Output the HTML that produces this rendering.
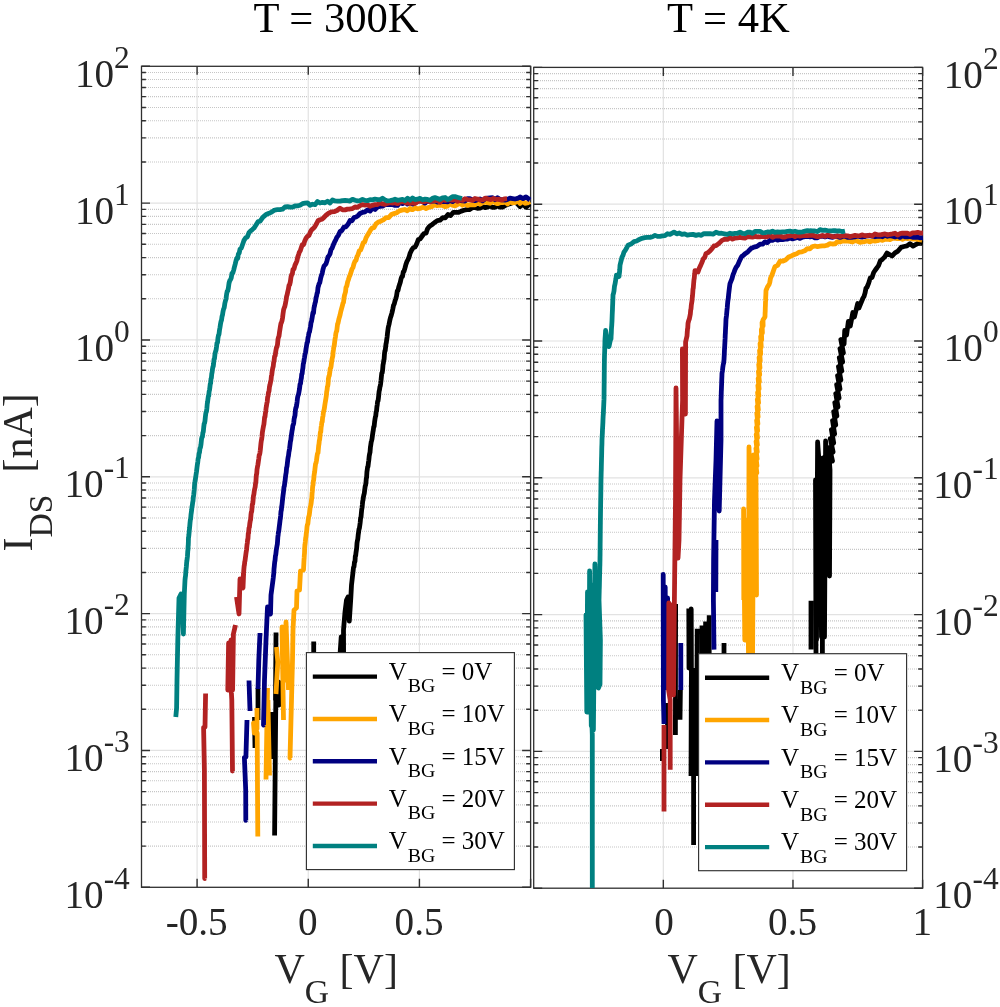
<!DOCTYPE html>
<html lang="en"><head><meta charset="utf-8"><title>IDS vs VG at 300K and 4K</title>
<style>html,body{margin:0;padding:0;background:#fff;}body{width:1000px;height:1007px;overflow:hidden;}svg{display:block;font-family:"Liberation Serif", "Times New Roman", serif;}text{white-space:pre;}</style></head><body>
<svg width="1000" height="1007" viewBox="0 0 1000 1007">
<rect width="1000" height="1007" fill="#fff"/>
<rect x="141.5" y="66.3" width="389.1" height="821" fill="#fff"/>
<path d="M142 161.94H530.6M142 137.85H530.6M142 120.75H530.6M142 107.49H530.6M142 96.66H530.6M142 87.5H530.6M142 79.56H530.6M142 72.56H530.6M142 298.78H530.6M142 274.68H530.6M142 257.58H530.6M142 244.32H530.6M142 233.49H530.6M142 224.33H530.6M142 216.39H530.6M142 209.39H530.6M142 435.61H530.6M142 411.51H530.6M142 394.42H530.6M142 381.16H530.6M142 370.32H530.6M142 361.16H530.6M142 353.23H530.6M142 346.23H530.6M142 572.44H530.6M142 548.35H530.6M142 531.25H530.6M142 517.99H530.6M142 507.16H530.6M142 498H530.6M142 490.06H530.6M142 483.06H530.6M142 709.28H530.6M142 685.18H530.6M142 668.08H530.6M142 654.82H530.6M142 643.99H530.6M142 634.83H530.6M142 626.89H530.6M142 619.89H530.6M142 846.11H530.6M142 822.01H530.6M142 804.92H530.6M142 791.66H530.6M142 780.82H530.6M142 771.66H530.6M142 763.73H530.6M142 756.73H530.6" stroke="#c6c6c6" stroke-width="1.1" stroke-dasharray="1 1" fill="none"/>
<path d="M141.5 203.13H530.6M141.5 339.97H530.6M141.5 476.8H530.6M141.5 613.63H530.6M141.5 750.47H530.6M197.09 66.3V887.3M308.26 66.3V887.3M419.43 66.3V887.3" stroke="#e2e2e2" stroke-width="1.2" fill="none"/>
<rect x="533.7" y="67.4" width="388.9" height="820.8" fill="#fff"/>
<path d="M534 163.02H922.6M534 138.93H922.6M534 121.84H922.6M534 108.58H922.6M534 97.75H922.6M534 88.59H922.6M534 80.66H922.6M534 73.66H922.6M534 299.82H922.6M534 275.73H922.6M534 258.64H922.6M534 245.38H922.6M534 234.55H922.6M534 225.39H922.6M534 217.46H922.6M534 210.46H922.6M534 436.62H922.6M534 412.53H922.6M534 395.44H922.6M534 382.18H922.6M534 371.35H922.6M534 362.19H922.6M534 354.26H922.6M534 347.26H922.6M534 573.42H922.6M534 549.33H922.6M534 532.24H922.6M534 518.98H922.6M534 508.15H922.6M534 498.99H922.6M534 491.06H922.6M534 484.06H922.6M534 710.22H922.6M534 686.13H922.6M534 669.04H922.6M534 655.78H922.6M534 644.95H922.6M534 635.79H922.6M534 627.86H922.6M534 620.86H922.6M534 847.02H922.6M534 822.93H922.6M534 805.84H922.6M534 792.58H922.6M534 781.75H922.6M534 772.59H922.6M534 764.66H922.6M534 757.66H922.6" stroke="#c6c6c6" stroke-width="1.1" stroke-dasharray="1 1" fill="none"/>
<path d="M533.7 204.2H922.6M533.7 341H922.6M533.7 477.8H922.6M533.7 614.6H922.6M533.7 751.4H922.6M663.33 67.4V888.2M792.97 67.4V888.2" stroke="#e2e2e2" stroke-width="1.2" fill="none"/>
<path d="M141.5 66.3h8.5M530.6 66.3h-8.5M141.5 161.94h4.4M530.6 161.94h-4.4M141.5 137.85h4.4M530.6 137.85h-4.4M141.5 120.75h4.4M530.6 120.75h-4.4M141.5 107.49h4.4M530.6 107.49h-4.4M141.5 96.66h4.4M530.6 96.66h-4.4M141.5 87.5h4.4M530.6 87.5h-4.4M141.5 79.56h4.4M530.6 79.56h-4.4M141.5 72.56h4.4M530.6 72.56h-4.4M141.5 203.13h8.5M530.6 203.13h-8.5M141.5 298.78h4.4M530.6 298.78h-4.4M141.5 274.68h4.4M530.6 274.68h-4.4M141.5 257.58h4.4M530.6 257.58h-4.4M141.5 244.32h4.4M530.6 244.32h-4.4M141.5 233.49h4.4M530.6 233.49h-4.4M141.5 224.33h4.4M530.6 224.33h-4.4M141.5 216.39h4.4M530.6 216.39h-4.4M141.5 209.39h4.4M530.6 209.39h-4.4M141.5 339.97h8.5M530.6 339.97h-8.5M141.5 435.61h4.4M530.6 435.61h-4.4M141.5 411.51h4.4M530.6 411.51h-4.4M141.5 394.42h4.4M530.6 394.42h-4.4M141.5 381.16h4.4M530.6 381.16h-4.4M141.5 370.32h4.4M530.6 370.32h-4.4M141.5 361.16h4.4M530.6 361.16h-4.4M141.5 353.23h4.4M530.6 353.23h-4.4M141.5 346.23h4.4M530.6 346.23h-4.4M141.5 476.8h8.5M530.6 476.8h-8.5M141.5 572.44h4.4M530.6 572.44h-4.4M141.5 548.35h4.4M530.6 548.35h-4.4M141.5 531.25h4.4M530.6 531.25h-4.4M141.5 517.99h4.4M530.6 517.99h-4.4M141.5 507.16h4.4M530.6 507.16h-4.4M141.5 498h4.4M530.6 498h-4.4M141.5 490.06h4.4M530.6 490.06h-4.4M141.5 483.06h4.4M530.6 483.06h-4.4M141.5 613.63h8.5M530.6 613.63h-8.5M141.5 709.28h4.4M530.6 709.28h-4.4M141.5 685.18h4.4M530.6 685.18h-4.4M141.5 668.08h4.4M530.6 668.08h-4.4M141.5 654.82h4.4M530.6 654.82h-4.4M141.5 643.99h4.4M530.6 643.99h-4.4M141.5 634.83h4.4M530.6 634.83h-4.4M141.5 626.89h4.4M530.6 626.89h-4.4M141.5 619.89h4.4M530.6 619.89h-4.4M141.5 750.47h8.5M530.6 750.47h-8.5M141.5 846.11h4.4M530.6 846.11h-4.4M141.5 822.01h4.4M530.6 822.01h-4.4M141.5 804.92h4.4M530.6 804.92h-4.4M141.5 791.66h4.4M530.6 791.66h-4.4M141.5 780.82h4.4M530.6 780.82h-4.4M141.5 771.66h4.4M530.6 771.66h-4.4M141.5 763.73h4.4M530.6 763.73h-4.4M141.5 756.73h4.4M530.6 756.73h-4.4M141.5 887.3h8.5M530.6 887.3h-8.5M197.09 887.3v-8.5M197.09 66.3v8.5M308.26 887.3v-8.5M308.26 66.3v8.5M419.43 887.3v-8.5M419.43 66.3v8.5M530.6 887.3v-8.5M530.6 66.3v8.5" stroke="#303030" stroke-width="1.4" fill="none"/>
<rect x="141.5" y="66.3" width="389.1" height="821" fill="none" stroke="#303030" stroke-width="1.3"/>
<path d="M533.7 67.4h8.5M922.6 67.4h-8.5M533.7 163.02h4.4M922.6 163.02h-4.4M533.7 138.93h4.4M922.6 138.93h-4.4M533.7 121.84h4.4M922.6 121.84h-4.4M533.7 108.58h4.4M922.6 108.58h-4.4M533.7 97.75h4.4M922.6 97.75h-4.4M533.7 88.59h4.4M922.6 88.59h-4.4M533.7 80.66h4.4M922.6 80.66h-4.4M533.7 73.66h4.4M922.6 73.66h-4.4M533.7 204.2h8.5M922.6 204.2h-8.5M533.7 299.82h4.4M922.6 299.82h-4.4M533.7 275.73h4.4M922.6 275.73h-4.4M533.7 258.64h4.4M922.6 258.64h-4.4M533.7 245.38h4.4M922.6 245.38h-4.4M533.7 234.55h4.4M922.6 234.55h-4.4M533.7 225.39h4.4M922.6 225.39h-4.4M533.7 217.46h4.4M922.6 217.46h-4.4M533.7 210.46h4.4M922.6 210.46h-4.4M533.7 341h8.5M922.6 341h-8.5M533.7 436.62h4.4M922.6 436.62h-4.4M533.7 412.53h4.4M922.6 412.53h-4.4M533.7 395.44h4.4M922.6 395.44h-4.4M533.7 382.18h4.4M922.6 382.18h-4.4M533.7 371.35h4.4M922.6 371.35h-4.4M533.7 362.19h4.4M922.6 362.19h-4.4M533.7 354.26h4.4M922.6 354.26h-4.4M533.7 347.26h4.4M922.6 347.26h-4.4M533.7 477.8h8.5M922.6 477.8h-8.5M533.7 573.42h4.4M922.6 573.42h-4.4M533.7 549.33h4.4M922.6 549.33h-4.4M533.7 532.24h4.4M922.6 532.24h-4.4M533.7 518.98h4.4M922.6 518.98h-4.4M533.7 508.15h4.4M922.6 508.15h-4.4M533.7 498.99h4.4M922.6 498.99h-4.4M533.7 491.06h4.4M922.6 491.06h-4.4M533.7 484.06h4.4M922.6 484.06h-4.4M533.7 614.6h8.5M922.6 614.6h-8.5M533.7 710.22h4.4M922.6 710.22h-4.4M533.7 686.13h4.4M922.6 686.13h-4.4M533.7 669.04h4.4M922.6 669.04h-4.4M533.7 655.78h4.4M922.6 655.78h-4.4M533.7 644.95h4.4M922.6 644.95h-4.4M533.7 635.79h4.4M922.6 635.79h-4.4M533.7 627.86h4.4M922.6 627.86h-4.4M533.7 620.86h4.4M922.6 620.86h-4.4M533.7 751.4h8.5M922.6 751.4h-8.5M533.7 847.02h4.4M922.6 847.02h-4.4M533.7 822.93h4.4M922.6 822.93h-4.4M533.7 805.84h4.4M922.6 805.84h-4.4M533.7 792.58h4.4M922.6 792.58h-4.4M533.7 781.75h4.4M922.6 781.75h-4.4M533.7 772.59h4.4M922.6 772.59h-4.4M533.7 764.66h4.4M922.6 764.66h-4.4M533.7 757.66h4.4M922.6 757.66h-4.4M533.7 888.2h8.5M922.6 888.2h-8.5M663.33 888.2v-8.5M663.33 67.4v8.5M792.97 888.2v-8.5M792.97 67.4v8.5M922.6 888.2v-8.5M922.6 67.4v8.5" stroke="#303030" stroke-width="1.4" fill="none"/>
<rect x="533.7" y="67.4" width="388.9" height="820.8" fill="none" stroke="#303030" stroke-width="1.3"/>
<clipPath id="c1"><rect x="140.9" y="65.7" width="390.3" height="822.2"/></clipPath>
<g clip-path="url(#c1)" fill="none" stroke-width="4.8" stroke-linejoin="round" stroke-linecap="butt">
<path d="M340 655L341.2 637L342.5 640L343.6 655L343.5 630L345 612L346.5 600L348 597L349.3 621L350.8 598L351.5 585L353 572L353.5 567.53L354 566.71L354.5 561.97L355 561.46L355.33 555.88L355.67 555.81L356 552.54L356.33 550.41L356.67 548.17L357 543.22L357.4 540.71L357.8 539.02L358.2 534.94L358.6 532.09L359 529.19L359.4 528.27L359.8 525.52L360.2 522.49L360.6 517.97L361 517.27L361.33 513.37L361.67 509.86L362 507.87L362.33 505.09L362.67 501.4L363 500.19L363.43 496.91L363.87 494.88L364.3 493.29L364.73 489.77L365.17 486.38L365.6 485.09L365.93 482.82L366.27 478.64L366.6 477.34L366.93 471.89L367.27 469.59L367.6 467.02L368 466.51L368.4 462.97L368.8 460.26L369.2 456.16L369.6 453.98L370 452.49L370.4 447.47L370.8 444.85L371.2 441.98L371.6 440.57L372 439.02L372.43 435.59L372.86 432.56L373.29 430.29L373.71 426.75L374.14 426.49L374.57 422.13L375 419.21L375.38 416.93L375.75 415.97L376.12 411.95L376.5 411.21L376.88 407.01L377.25 404.82L377.62 401.22L378 401.22L378.38 398.39L378.75 394.92L379.12 391.35L379.5 389.98L379.88 387.13L380.25 386.02L380.62 383.78L381 380.72L381.4 376.56L381.8 373.02L382.2 372.78L382.6 370.13L383 364.98L383.38 363.25L383.75 360.44L384.12 359.18L384.5 353.63L384.88 350.94L385.25 350.53L385.62 346.96L386 343.89L386.38 342.33L386.75 339.28L387.12 337.08L387.5 333.27L387.88 330.25L388.25 327.53L388.62 326L389 324.45L389.75 320.64L390.5 317.54L391.25 315.36L392 312.62L392.75 309.29L393.5 305.44L394.25 303.97L395 300.9L395.75 298.68L396.5 296.18L397.25 291.05L398 290.51L398.75 287.04L399.5 284.67L400.25 282.55L401 278.93L401.75 276.75L402.5 276.46L403.25 271.99L404 271.24L405 267.89L406 264.11L407 261.46L408 259.65L409 257.27L410 253.52L411.67 250.01L413.33 247.68L415 247.08L416.67 244.02L418.33 239.49L420 239.01L422 236.23L424 233.5L426 233.18L427.5 228.89L429 226.79L430.5 225.53L432 224.71L434.67 222.48L437.33 220.62L440 220.22L442.67 217.68L445.33 217.86L448 214.51L450.67 215.52L453.33 212.3L456 212.47L458.67 212.35L461.33 211.13L464 210.24L466.67 209.62L469.33 209.69L472 208.01L474.67 207.47L477.33 208.3L480 208.06L482.5 206.6L485 207.59L487.5 207.15L490 205.97L492.5 207.37L495 207.34L497.5 205.77L500 207.1L502.5 207.06L505 205.69L507.5 204.52L510 203.72L513 202.59L516 202.32L520 206.5L523 204.18L526 207.25L530 204M313.7 641.5L313.7 655M258 688L258 720M254.5 717L255 748M276 632.5L275.5 700L278.8 682L279 705L275.8 700L275 790L274.6 835.4M271.5 712L270.5 759" stroke="#000000"/>
<path d="M290.21 757.7L290 758L291.5 700L292.5 660L293 630L294 610L296.5 608L297 591L299.5 590L300.5 571L303.5 570L304 560L304.17 557.94L304.33 555.12L304.5 553.32L304.67 548.65L304.83 545.93L305 544.7L305.33 541.81L305.67 538.08L306 536.55L306.33 533.02L306.67 531.5L307 526.86L307.43 524.5L307.87 523.87L308.3 519.57L308.73 516.61L309.17 515.58L309.6 512.39L310.1 507.95L310.6 506.15L311.1 503.49L311.6 498.99L311.83 497.79L312.07 493.54L312.3 491.51L312.53 488.08L312.77 485.78L313 485.43L313.33 481.04L313.67 480.14L314 475.82L314.33 473.66L314.67 471.78L315 468.56L315.5 464.17L316 462.93L316.5 460.4L317 456.38L317.5 453.45L318 453.12L318.33 449.37L318.67 445.75L319 443.86L319.33 440.49L319.67 439.56L320 436L320.38 432.31L320.75 431.95L321.12 427.27L321.5 425.34L321.88 422.08L322.25 421.72L322.62 417.34L323 416.08L323.43 412.21L323.86 410.8L324.29 408.84L324.71 405.82L325.14 403.01L325.57 400.53L326 397.81L326.34 395.71L326.69 391.64L327.03 390.21L327.37 386.92L327.71 386.24L328.06 383.89L328.4 378.7L328.85 376.43L329.3 375.61L329.75 372.71L330.2 368.56L330.65 368.11L331.1 366.33L331.55 362.27L332 359.54L332.38 357.71L332.75 356.32L333.12 351.79L333.5 349.41L333.88 346.57L334.25 345.39L334.62 342.41L335 339.27L335.43 337.09L335.86 333.46L336.29 331.72L336.71 331.16L337.14 327.4L337.57 323.92L338 323.31L339 318.57L340 315.25L340.75 311.61L341.5 308.94L342.25 306.1L343 303.19L343.5 302.45L344 297.96L344.5 295.25L345 293.65L345.5 291.92L346 287.37L346.8 285.98L347.6 282.01L348.4 279.78L349.2 277.09L350 275.33L351 272.27L352 269.02L353 267.52L354 263.6L355 261.15L356 260.38L357 256.64L358 254.82L359.33 250.78L360.67 249.91L362 246.34L363.33 242.58L364.67 241.97L366 237.91L367.5 235.27L369 232.79L370.5 230.06L372 228.1L374 227.58L376 223.92L378 222.28L380.67 221.18L383.33 219.8L386 217.64L388.67 217.52L391.33 214.6L394 213.61L396.67 212.78L399.33 210.89L402 210.17L404.67 209.47L407.33 210.74L410 208.54L412.5 209.7L415 207.97L417.5 208.84L420 208.47L423 207.16L426 208.5L429 207.27L432 206.57L434.57 204.81L437.14 205.66L439.71 205.01L442.29 205.4L444.86 206.56L447.43 206.12L450 203.49L452.5 205.22L455 205.85L457.5 204.55L460 203.09L462.5 205.28L465 203.83L467.5 205.37L470 204.92L472.5 204.69L475 204.89L477.5 202.2L480 204.28L482.5 202.72L485 202.11L487.5 202.74L490 203.27L492.5 201.44L495 202.7L497.5 203.63L500 202.69L502.5 202.71L505 201.94L507.5 203.89L510 201.64L512.5 202.84L515 202.64L517.5 200.6L520 203.49L522.5 201.11L525 203.27L527.5 202.98L530 201.6M288.5 690L286 622L284.8 680L282 627L283.5 720M276.5 647L277.8 662L276 694M267.5 688L266 779.5M267.9 700L269.5 775.5M257 708L257 729L253.5 723L254.3 733L257.2 733L257.5 790L257.8 836.6" stroke="#FFA500"/>
<path d="M263.71 724.7L263.5 725L264.5 680L266 640L267.5 607L270.5 614L271 595L273 580L273.25 578.06L273.5 575.55L273.75 573.55L274 569.06L274.25 566.69L274.5 563.94L274.75 561.68L275 560.7L275.4 556.09L275.8 554.49L276.2 550.74L276.6 548.18L277 545.79L277.29 544.44L277.57 541.18L277.86 536.83L278.14 535.04L278.43 532.08L278.71 531.69L279 528.93L279.33 526.25L279.67 523.65L280 520.73L280.33 518.68L280.67 515.55L281 511.27L281.33 510.38L281.67 506.63L282 504.77L282.33 501.53L282.67 498.46L283 495.59L283.33 493.12L283.67 490.11L284 486.85L284.33 486.29L284.67 483.56L285 481.46L285.4 477.77L285.8 474.56L286.2 472.35L286.6 467.7L287 466.53L287.37 463.26L287.74 459.89L288.11 457.39L288.49 455.78L288.86 452.4L289.23 450.45L289.6 448.32L290 445.02L290.4 441.56L290.8 439.97L291.2 436.54L291.6 433.87L292 431.08L292.43 429.03L292.86 425.58L293.29 424.74L293.71 423.08L294.14 418.81L294.57 417.23L295 415.3L295.43 410.06L295.86 407.78L296.29 407.2L296.71 404.73L297.14 401.56L297.57 397.55L298 395.74L298.5 394.44L299 391.83L299.5 388.91L300 384.44L300.5 383.73L301 379.62L301.38 378.15L301.75 373.91L302.12 373.91L302.5 370.31L302.88 368.17L303.25 364.14L303.62 362.85L304 360.24L304.5 357.61L305 354.24L305.5 352.68L306 348.86L306.5 346.05L307 342.99L307.5 342.05L308 337.84L308.5 335.68L309 332.71L309.5 331.93L310 329.17L310.5 326.63L311 322.62L311.5 321.32L312 318.53L312.5 315.28L313 312.51L313.5 312.99L314 307.86L314.5 305.9L315 303.31L315.5 301.79L316 297.73L316.5 296.41L317 293.6L317.5 292.5L318 287.52L318.5 286L319 283.99L319.8 282.61L320.6 278.45L321.4 275.52L322.2 273.31L323 269.39L324 266.1L325 265L326 263.73L327 260.72L328 256.87L329 255.75L330 253.85L331 249.68L332 248.26L333.25 245.07L334.5 242.23L335.75 239.86L337 237.11L338.5 235.05L340 231.61L342 230.36L344 227.09L346 226.77L348 224.3L350 220.51L352 220.82L354 217.57L356 216.94L358 215.66L360 213.5L362.5 212.37L365 211.8L367.5 209.91L370 211.09L372.5 208.09L375 209.47L377.5 206.9L380 206.41L382.5 206.17L385 204.6L387.5 204.38L390 204.58L392.5 204.48L395 205.43L397.5 205.42L400 202.23L402.5 203.56L405 202.19L407.5 204.06L410 202.47L412.5 204.03L415 202.84L417.5 201.43L420 200.91L422.5 201.47L425 203.15L427.5 200.82L430 201.64L432.5 201.14L435 200.88L437.5 202.08L440 200.14L442.5 201.53L445 201.25L447.5 201.93L450 200.56L452.5 201.64L455 200.07L457.5 200.34L460 200.36L462.5 200.97L465 201.09L467.5 198.7L470 198.71L472.5 199.85L475 200.64L477.5 199.75L480 199L482.5 200.89L485 198.79L487.5 198.06L490 197.86L492.5 197.69L495 199.68L497.5 197.72L500 199.45L502.5 199.8L505 200.1L507.5 199.43L510 198.17L512.5 198.57L515 199L517.5 198.45L520 196.97L523 198.59L526 196.83L530 200M260 633L258.8 660L258 689M249 680.5L250 711M247 720L245.9 757L244.4 757.5L245.7 790L245.8 820.4L246 820.1" stroke="#000080"/>
<path d="M236.5 597L239 614L240 579L243 588L243.6 574L243 578L243.29 575.9L243.57 573.36L243.86 569.21L244.14 566.25L244.43 564.77L244.71 561.89L245 560.93L245.4 557.77L245.8 554.7L246.2 551.77L246.6 549.28L247 544.94L247.32 543.02L247.64 539.39L247.96 538.82L248.28 533.48L248.6 532.96L249 528.06L249.4 527.23L249.8 523.51L250.2 521.05L250.6 519.69L251 514.56L251.33 512.02L251.67 511.91L252 508.03L252.33 504.11L252.67 504.13L253 501.34L253.43 496.17L253.87 494.44L254.3 490.91L254.73 488.77L255.17 487.03L255.6 482.99L255.88 481.79L256.16 477.05L256.44 474.61L256.72 473.75L257 469.7L257.43 467.09L257.87 464.95L258.3 461.93L258.73 458.99L259.17 455.26L259.6 454.68L259.94 452.83L260.29 450.29L260.63 446.78L260.97 443.28L261.31 440.73L261.66 439.14L262 436.52L262.38 432.34L262.75 430.2L263.12 428.09L263.5 426.03L263.88 424.43L264.25 421L264.62 417.08L265 416.97L265.38 413.29L265.75 411.06L266.12 407.67L266.5 405.78L266.88 403.16L267.25 401.82L267.62 397.31L268 396.15L268.5 392.37L269 391.25L269.5 386.61L270 384.66L270.5 382.2L271 380.41L271.38 376.16L271.75 374.88L272.12 371.63L272.5 369.35L272.88 367.43L273.25 366.38L273.62 362.44L274 361.37L274.6 356.2L275.2 355.67L275.8 351.19L276.4 347.87L277 346.75L277.5 344.57L278 339.19L278.5 337.3L279 336.15L279.5 332.19L280 329.22L280.5 325.86L281 323.29L281.5 322.36L282 320.78L282.5 318.16L283 314.01L283.6 309.77L284.2 307.87L284.8 306.46L285.4 303.8L286 300.42L286.6 296.39L287.2 294.48L287.8 291.53L288.4 289.18L289 285.29L289.67 284.67L290.33 281.85L291 276.99L291.67 274.71L292.33 273.79L293 269.33L294 268.83L295 265.05L296 263.09L297 260.61L297.8 256.74L298.6 254.56L299.4 252.06L300.2 250.95L301 248.58L302.25 244.65L303.5 244.66L304.75 241.01L306 238.22L307.5 236.31L309 235.44L310.5 231.68L312 229.37L313.5 228.26L315 226.39L316.5 223.78L318 220.75L320 219.77L322 219.2L324 217.37L326 215.24L328.67 213.21L331.33 211.94L334 211.71L337 210.49L340 208.15L342.5 209.78L345 209.91L347.5 209.14L350 208.99L352.5 208.58L355 207L357.5 207.32L360 205.64L362.5 204.54L365 205.06L367.5 204.69L370 206.3L372.5 205.32L375 204.62L377.5 204.62L380 202.87L382.5 203.98L385 204.35L387.5 203.31L390 202.74L392.5 203.1L395 202.72L397.5 203.68L400 201.93L402.5 201.65L405 202.19L407.5 203.21L410 203.28L412.5 202.85L415 203.55L417.5 201.72L420 200.59L422.5 201.84L425 201.58L427.5 200.66L430 202L432.5 200.9L435 200.47L437.5 200.61L440 202.33L442.5 199.4L445 200.33L447.5 199.96L450 199.6L452.5 200.17L455 199.41L457.5 201.38L460 200L462.5 200.47L465 198.74L467.5 199.52L470 199.82L472.5 200.4L475 198.5L477.5 199L480 200.06L482.7 199.96L485.4 198.1L488.1 198.99L490.8 199.62L493.5 198.49L496.2 199.28L498.9 199.21L501.6 200.1L504.3 198.8L507 198.6M235.5 625L233.4 634L232.6 690L231 640L230.2 690L228.6 643L227.8 690L229.6 660L231.8 700L232.5 771L232.7 770.7M205.6 693.5L205 727L203.6 727.5L204.4 770L204.7 878.6L204.9 878.3" stroke="#B22222"/>
<path d="M175.8 717L176.6 708L177 680L177.8 640L179 598L181 594L182.3 600L183.4 634L184.3 594L185 580L185.28 577.38L185.56 575.67L185.84 571.5L186.12 568.82L186.4 566.26L186.67 562.39L186.93 560.7L187.2 558.39L187.47 556.21L187.73 551.45L188 549.41L188.12 545.97L188.24 545.33L188.36 542.18L188.48 537.43L188.6 537.45L188.95 534.39L189.3 530.46L189.65 527.35L190 522.97L190.33 519.88L190.67 518.75L191 514.68L191.33 512.4L191.67 509.89L192 506.59L192.33 505.23L192.67 502.49L193 501.03L193.33 497.39L193.67 495.09L194 492L194.25 489.49L194.5 485.87L194.75 482.33L195 481.49L195.5 478.49L196 475.02L196.5 471.62L197 467.45L197.4 464.39L197.8 461.77L198.2 458.31L198.6 457.6L199 453.7L199.5 452.37L200 448.33L200.5 447.37L201 444.38L201.5 439.17L202 437.13L202.43 436.66L202.86 432.77L203.29 431.73L203.71 427.41L204.14 423.86L204.57 422.96L205 420.84L205.38 416.81L205.75 413.76L206.12 412L206.5 411.39L206.88 408.27L207.25 403.85L207.62 401.74L208 398.8L208.38 396.18L208.75 395.89L209.12 391.53L209.5 390.18L209.88 387.34L210.25 384.07L210.62 383.2L211 378.89L211.38 377.93L211.75 373.85L212.12 372.26L212.5 369.14L212.88 366.81L213.25 366.41L213.62 363.41L214 359.41L214.5 358.49L215 353.8L215.5 351.68L216 350.4L216.5 347.09L217 342.8L217.5 342.8L218 337.81L218.5 335.27L219 334.15L219.5 330.15L220 327.39L220.5 324.05L221 321.44L221.5 320.25L222 316.56L222.5 314.97L223 311.62L223.6 309.06L224.2 307.78L224.8 303.55L225.4 301.02L226 299.1L226.6 294.25L227.2 291.36L227.8 290.83L228.4 287.75L229 283.25L229.75 280.57L230.5 279.72L231.25 277.82L232 273.09L232.8 272.95L233.6 270.35L234.4 267.11L235.2 264.16L236 260.81L236.8 258.22L237.6 258.59L238.4 254.02L239.2 253.01L240 249.27L241.33 247.97L242.67 244.29L244 240.38L245.67 237.69L247.33 236.99L249 232.71L250.67 230.85L252.33 229.51L254 228.06L256 225.01L258 221.67L260 221.25L263 217.11L266 214.55L269 213.31L272 211.84L274.67 210.01L277.33 209.7L280 209.61L282.5 209.22L285 206.89L287.5 206.59L290 207.17L292.5 207.19L295 205.97L297.5 205.82L300 205.25L302.5 203.67L305 203.11L307.5 202.8L310 205.23L312.5 204.25L315 204.69L317.5 201.51L320 203.01L322.5 202.3L325 202.79L327.5 201.31L330 203.1L332.5 199.93L335 200.94L337.5 201.11L340 201.2L342.5 200.66L345 200.51L347.5 200.73L350 201.05L352.5 199.31L355 200.26L357.5 200.85L360 200.71L362.5 199.33L365 200.42L367.5 200.62L370 199.72L372.5 199.85L375 199.1L377.5 199.67L380 199.73L382.5 198.17L385 199.87L387.5 200.95L390 200.64L392.5 200.21L395 199.22L397.5 200.28L400 199.84L402.5 199.37L405 200.52L407.5 198.2L410 200.15L412.5 197.94L415 199.6L417.5 199.19L420 198.39L422.5 199.77L425 199.14L427.5 199.47L430 200.36L432.5 198.34L435 197.58L437.5 198.43L440 199.53L442.5 197.86L445 197.51L447.5 199.47L450 198.48L452.5 196.58L455 196.68L458 197.48L462 198.5" stroke="#008080"/>
</g>
<clipPath id="c2"><rect x="533.1" y="66.8" width="390.1" height="822"/></clipPath>
<g clip-path="url(#c2)" fill="none" stroke-width="4.8" stroke-linejoin="round" stroke-linecap="butt">
<path d="M816 655L815.5 480L816.5 640L817.6 442L820 475L821.5 637L823 458L824.5 637L825.6 441L827.5 470L829.5 576L830 470L829 456.5L832.5 461L829.6 447.5L833.1 452L830.29 438.5L833.7 443L831.41 429.5L834.65 434L832.54 420.5L835.77 425L833.66 411.5L836.9 416L834.79 402.5L838.02 407L835.75 393.5L839.1 398L836.65 384.5L840 389L837.55 375.5L840.9 380L838.45 366.5L841.8 371L839.29 357.5L842.7 362L839.96 348.5L843.42 353L840.82 339.5L844.1 344L844.7 330.5L846.59 335L848.35 321.5L850.3 326L852.85 312.5L854.4 317L857.66 303.5L858.9 308L863 298L864 296.45L865 293.17L866 288.03L867 287.26L868.67 283.13L870.33 277.78L872 277.54L873.67 272.5L875.33 270.01L877 267.74L878.67 265.3L880.33 260.72L882 259.63L884.5 257.13L887 253.04L892 256L895 252.92L898 251.1L901 247.42L904 246.52L907 245.9L910 243.65L913 246.11L916 244.46L919.5 242.13L923 243M811 600.8L811 649.6M822.4 620L822.4 655M675.6 604L675.4 735M680.4 690L680 719.7M667.5 703L667.5 749M662.4 749L662.4 761M688.8 608.5L689 668L691.2 609L691.4 668L691 776M697.2 628.8L696.5 776M693.6 668L693.6 845M709.2 615.2L709.2 655M705.6 621.6L705.6 655M702 625.6L702 655M724 643L724 655" stroke="#000000"/>
<path d="M743.8 600L743.6 509L744.8 640L746 540L747 520L748.5 655L749 447L750.5 520L751 655L752.6 655L753.6 455L755 520L756.5 595L756 480L755.51 469.5L756.84 473L755.65 462.5L756.98 466L755.79 455.5L757.12 459L755.93 448.5L757.26 452L756.07 441.5L757.4 445L756.21 434.5L757.54 438L756.38 427.5L757.68 431L756.62 420.5L757.9 424L756.85 413.5L758.13 417L757.08 406.5L758.37 410L757.32 399.5L758.6 403L757.6 392.5L758.86 396L757.88 385.5L759.14 389L758.16 378.5L759.42 382L758.44 371.5L759.7 375L758.72 364.5L759.98 368L759.07 357.5L760.26 361L759.56 350.5L760.72 354L760.05 343.5L761.21 347L760.65 336.5L761.7 340L761.35 329.5L762.4 333L762.05 322.5L763.1 326L763 320L765 316.68L765.1 312.77L765.2 311.8L765.3 307.59L765.4 305.94L765.5 302.18L765.6 300.92L765.7 297.1L765.8 295.61L765.9 293.05L766 290.53L767.5 286.88L769 284.73L769.75 282.48L770.5 278.23L771.25 276.53L772 274.92L773 272.14L774 269.22L775 266.61L777.5 265.41L780 261.17L783 261.02L786 259.69L788.67 256.98L791.33 255.99L794 254.61L796.67 253.75L799.33 252.07L802 251.79L804.67 250.85L807.33 248.63L810 248.79L812.5 246.54L815 245.99L817.5 246.53L820 246.2L822.5 245.84L825 245.78L827.5 245.12L830 243.53L832.5 243.99L835 243.85L837.5 241.69L840 241.99L842.5 241.06L845 240.79L847.5 241.21L850 241.34L852.5 242.02L855 240.41L857.5 241.24L860 242.29L862.5 241.91L865 241.51L867.5 241.01L870 241.86L872.5 240.72L875 241.09L877.5 240.7L880 239.78L882.5 240.34L885 239.31L887.5 239.19L890 239.66L892.5 238.35L895 238.07L897.5 238.7L900 238.27L902.5 239.3L905 238.2L907.5 238.59L910 238.12L913 239.15L916 239.13L919 239.65L922 240" stroke="#FFA500"/>
<path d="M714 649.6L713.4 600L713.6 560L714.5 500L716 460L717 421L718 470L719.2 511L720 480L721 440L721 400L721.1 398.3L721.2 395.58L721.3 391.37L721.4 389.78L721.5 386.85L721.6 384.46L721.7 381.06L721.8 378.58L721.9 376.49L722 373.44L722.4 371.11L722.8 367.45L723.2 364.77L723.6 363.22L724 359.84L724.12 357.53L724.25 355.47L724.38 352.22L724.5 349.12L724.62 348.07L724.75 345.18L724.88 342.82L725 340.24L725.12 338.44L725.25 334.73L725.38 333.02L725.5 329.74L725.62 327.64L725.75 325.32L725.88 322.13L726 319.17L726.25 317.45L726.5 315.44L726.75 312.68L727 309.89L727.25 307.78L727.5 304.36L727.75 301.86L728 299.65L728.33 297.97L728.67 294.06L729 291.23L729.33 288.53L729.67 285.74L730 283.55L731 281.15L732 278.64L733 274.99L734 272.41L735 269.58L736.33 266.94L737.67 265.22L739 262.1L740.33 259.18L741.67 256.55L743 255.57L745.5 253.41L748 251.66L751 248.48L754 247.09L757 246.34L760 244.19L762.5 244.14L765 241.83L767.5 242.7L770 240.11L772.5 240.33L775 239.05L777.5 240.12L780 239.37L782.5 239.7L785 239.11L787.5 239.15L790 238.08L792.5 238.85L795 238.25L797.5 237.32L800 238.45L802.5 237.13L805 236.64L807.5 236.28L810 236.93L812.5 236.36L815 237.8L817.5 237.81L820 236.31L822.5 236.05L825 236.87L827.5 236.12L830 236.84L832.5 237.34L835 236.19L837.5 236.5L840 237.43L842.5 236.48L845 236.25L847.5 237.32L850 237.13L852.5 237.26L855 236.81L857.5 236.23L860 236.76L862.5 237L865 236.59L867.5 235.76L870 235.84L872.5 236.04L875 236.73L877.5 236.27L880 236.22L882.5 236.75L885 235.28L887.5 236.29L890 235.67L892.5 236.24L895 236.92L897.5 235.87L900 237.4L902.5 235.78L905 236.87L907.5 236.96L910 236.47L912.6 237.24L915.2 237.18L917.8 237.26L920.4 237.92L923 237.6M716 540L715.8 592M664 724L663.4 700L663.2 574.4L663.4 640L665.2 587L665.6 650L667.6 598L668 690M680.8 643L680.8 690" stroke="#000080"/>
<path d="M670.2 769.8L670.2 700L668.6 690L668.8 603L671 606L673.5 695L674.4 600L675.5 500L676 388L678 558L679 540L680 480L682.6 400L682.4 349L684 380L685.4 414L685.6 342L687 336L687.25 332.28L687.5 329.05L687.75 328L688 323.37L688.67 320.57L689.33 318.97L690 315.69L690.33 314.11L690.67 310.13L691 308.92L691.33 304.97L691.67 302.87L692 300.86L692.25 297.87L692.5 295.85L692.75 292.92L693 289.1L693.25 288.26L693.5 285.18L693.75 282.12L694 279.38L694.25 278.2L694.5 275.17L694.75 273.38L695 270.55L698 271.92L699.33 268.13L700.67 265.4L702 262.22L703.33 258.85L704.67 257.58L706 253.62L708 252.56L710 250.91L712 248.64L714 245.95L716 245.65L719 243.34L722 240.37L724.67 239.26L727.33 239.4L730 237.56L732.5 239.13L735 238.06L737.5 237.86L740 237.42L742.5 237.77L745 238.13L747.5 236.76L750 236.75L752.5 237.09L755 236.44L757.5 236.97L760 236.79L762.5 236.49L765 236.9L767.5 236.53L770 235.58L772.5 237.34L775 236.01L777.5 236.11L780 236.01L782.5 237.01L785 237L787.5 236.07L790 235.8L792.5 235.19L795 236.79L797.5 235.34L800 236.09L802.5 235.7L805 235.66L807.5 235.71L810 235.38L812.5 235.07L815 236.07L817.5 236.59L820 236.29L822.5 235.4L825 236.39L827.5 235.1L830 235.82L832.5 236.61L835 236.74L837.5 235.77L840 236.49L842.5 235.75L845 235.75L847.5 235.82L850 236.58L852.5 236.01L855 235.4L857.5 235.83L860 235.59L862.5 234.93L865 235.72L867.5 235.71L870 235.22L872.5 235.81L875 233.89L877.5 234.78L880 234.97L882.5 234.31L885 233.89L887.5 234.86L890 234.27L892.5 233.84L895 233.28L897.5 235.03L900 233.7L902.5 233.14L905 233.23L907.5 233.21L910 234.33L912.6 232.84L915.2 232.91L917.8 232.43L920.4 233.06L923 233M664 725L664 811.5" stroke="#B22222"/>
<path d="M592.3 888L592.3 735L591.4 708L588 712L586 615L586.8 712L587.5 592L589 712L589.6 571L591.3 726L592 585L593.4 730L594.9 564L595.6 686L597.5 575L598.4 688L600 684L600.4 640L599 600L599.06 597.88L599.12 595.27L599.19 592.46L599.25 589.43L599.31 588.09L599.38 585.62L599.44 582.52L599.5 580.01L599.56 576.97L599.62 574.01L599.69 572.24L599.75 570.17L599.81 566.64L599.88 565.59L599.94 561.96L600 559.47L600.02 556.58L600.05 556L600.08 552.98L600.1 550.75L600.12 547.73L600.15 544.07L600.17 542.16L600.2 540L600.23 536.73L600.25 535.9L600.27 532.24L600.3 529.31L600.32 528.14L600.35 524.25L600.38 523.36L600.4 519.91L600.44 517.6L600.48 514.69L600.51 512.47L600.55 509.37L600.59 506.57L600.62 505.73L600.66 501.97L600.7 500.56L600.74 496.92L600.77 495.94L600.81 493.29L600.85 490.51L600.89 488.03L600.92 485.16L600.96 482.96L601 479.24L601.06 477.45L601.12 475.65L601.19 471.9L601.25 470.85L601.31 468.28L601.38 464.82L601.44 462.23L601.5 459.9L601.56 457.27L601.62 455.99L601.69 452.27L601.75 449.05L601.81 446.69L601.88 445.44L601.94 443.49L602 439.99L602.12 437.48L602.25 435.1L602.38 433L602.5 429.44L602.62 427.72L602.75 425.11L602.88 422.75L603 419.36L603.12 416.84L603.25 414.7L603.38 413.35L603.5 409.69L603.62 407.69L603.75 404.61L603.88 401.71L604 399.13L604.02 398.13L604.05 395.55L604.08 392.25L604.1 390.37L604.12 387.85L604.15 385.8L604.17 383.42L604.2 379.81L604.23 378.48L604.25 375.92L604.27 372.68L604.3 370.77L604.32 367.48L604.35 364.75L604.38 361.99L604.4 360.75L604.48 356.82L604.55 354.14L604.62 353.11L604.7 350.55L604.77 347.47L604.85 345.67L604.92 341.6L605 339.52L605.2 336.58L605.4 333.84L605.6 330.34L606.07 333.14L606.53 336.68L607 340.8L608 343.97L609 346.49L609.67 343.29L610.33 340.17L611 338.92L611.14 335.48L611.29 333.31L611.43 329.34L611.57 327.14L611.71 325.82L611.86 323.16L612 320.76L612.11 317.54L612.22 314.52L612.33 312.16L612.44 310.03L612.56 306.28L612.67 304.07L612.78 300.89L612.89 299.2L613 295.02L613.5 293.37L614 290.91L614.5 286.05L615 284.19L615.47 281.29L615.93 278.7L616.4 275.17L619 276.51L619.25 274.06L619.5 272.42L619.75 269.56L620 265.27L620.67 262.52L621.33 259.85L622 257.05L623 255.23L624 251.95L625 250.73L626.5 248.31L628 245.25L631 244.08L634 241.65L636.67 240.99L639.33 239.44L642 238.33L644.67 237.7L647.33 237.42L650 237.42L652.5 236.75L655 235.39L657.5 236.37L660 236.35L662.5 235.85L665 235.58L667.5 233.72L670 234.33L674 232.13L676.67 233.86L679.33 233.02L682 234.42L684.67 233.84L687.33 235.06L690 234.63L693 234.38L696 235.38L698.67 234.69L701.33 235.33L704 233.59L707 233.76L710 233.6L713 234.15L716 232.2L718.8 233.32L721.6 233.26L724.4 233.83L727.2 234.41L730 233.22L732.5 233.85L735 233.35L737.5 233.27L740 232.13L742.5 233.48L745 233.65L747.5 232.26L750 232.04L752.5 233.34L755 231.52L757.5 231.4L760 231.35L762.5 232.78L765 232.62L767.5 231.95L770 232.24L772.5 231.04L775 232.29L777.5 231.89L780 232.03L782.5 231.78L785 231.8L787.5 231.45L790 231.1L792.5 231.74L795 231.24L797.5 232.03L800 232.13L802.5 231.82L805 231.16L807.5 230.6L810 230.77L812.5 230.85L815 231.01L817.5 231.55L820 229.67L822.5 230.33L825 230.23L827.5 230.56L830 230.78L832.5 230.73L835 230.59L837.5 231.02L840 231L842.5 231.55L845 231" stroke="#008080"/>
</g>
<rect x="306.4" y="652.6" width="208" height="217" fill="#fff" stroke="#303030" stroke-width="1.15"/>
<line x1="312.8" y1="676.6" x2="377" y2="676.6" stroke="#000000" stroke-width="4.4"/>
<text x="388.7" y="679.8" font-size="25" fill="#000">V<tspan font-size="19.8" dx="1" dy="12.6">BG</tspan><tspan dy="-12.6"> = 0V</tspan></text>
<line x1="312.8" y1="718.95" x2="377" y2="718.95" stroke="#FFA500" stroke-width="4.4"/>
<text x="388.7" y="722.15" font-size="25" fill="#000">V<tspan font-size="19.8" dx="1" dy="12.6">BG</tspan><tspan dy="-12.6"> = 10V</tspan></text>
<line x1="312.8" y1="761.3" x2="377" y2="761.3" stroke="#000080" stroke-width="4.4"/>
<text x="388.7" y="764.5" font-size="25" fill="#000">V<tspan font-size="19.8" dx="1" dy="12.6">BG</tspan><tspan dy="-12.6"> = 15V</tspan></text>
<line x1="312.8" y1="803.65" x2="377" y2="803.65" stroke="#B22222" stroke-width="4.4"/>
<text x="388.7" y="806.85" font-size="25" fill="#000">V<tspan font-size="19.8" dx="1" dy="12.6">BG</tspan><tspan dy="-12.6"> = 20V</tspan></text>
<line x1="312.8" y1="846" x2="377" y2="846" stroke="#008080" stroke-width="4.4"/>
<text x="388.7" y="849.2" font-size="25" fill="#000">V<tspan font-size="19.8" dx="1" dy="12.6">BG</tspan><tspan dy="-12.6"> = 30V</tspan></text>
<rect x="698.6" y="653.7" width="208" height="217" fill="#fff" stroke="#303030" stroke-width="1.15"/>
<line x1="705" y1="677.7" x2="769.2" y2="677.7" stroke="#000000" stroke-width="4.4"/>
<text x="780.9" y="680.9" font-size="25" fill="#000">V<tspan font-size="19.8" dx="1" dy="12.6">BG</tspan><tspan dy="-12.6"> = 0V</tspan></text>
<line x1="705" y1="720.05" x2="769.2" y2="720.05" stroke="#FFA500" stroke-width="4.4"/>
<text x="780.9" y="723.25" font-size="25" fill="#000">V<tspan font-size="19.8" dx="1" dy="12.6">BG</tspan><tspan dy="-12.6"> = 10V</tspan></text>
<line x1="705" y1="762.4" x2="769.2" y2="762.4" stroke="#000080" stroke-width="4.4"/>
<text x="780.9" y="765.6" font-size="25" fill="#000">V<tspan font-size="19.8" dx="1" dy="12.6">BG</tspan><tspan dy="-12.6"> = 15V</tspan></text>
<line x1="705" y1="804.75" x2="769.2" y2="804.75" stroke="#B22222" stroke-width="4.4"/>
<text x="780.9" y="807.95" font-size="25" fill="#000">V<tspan font-size="19.8" dx="1" dy="12.6">BG</tspan><tspan dy="-12.6"> = 20V</tspan></text>
<line x1="705" y1="847.1" x2="769.2" y2="847.1" stroke="#008080" stroke-width="4.4"/>
<text x="780.9" y="850.3" font-size="25" fill="#000">V<tspan font-size="19.8" dx="1" dy="12.6">BG</tspan><tspan dy="-12.6"> = 30V</tspan></text>
<text x="336" y="31.6" text-anchor="middle" font-size="42.6" fill="#000">T = 300K</text>
<text x="728.4" y="31.6" text-anchor="middle" font-size="42.6" fill="#000">T = 4K</text>
<text x="129.8" y="86.9" text-anchor="end" font-size="39.2" fill="#262626">10<tspan font-size="31.4" dy="-19">2</tspan></text>
<text x="129.8" y="223.73" text-anchor="end" font-size="39.2" fill="#262626">10<tspan font-size="31.4" dy="-19">1</tspan></text>
<text x="129.8" y="360.57" text-anchor="end" font-size="39.2" fill="#262626">10<tspan font-size="31.4" dy="-19">0</tspan></text>
<text x="129.8" y="497.4" text-anchor="end" font-size="39.2" fill="#262626">10<tspan font-size="31.4" dy="-19">-1</tspan></text>
<text x="129.8" y="634.23" text-anchor="end" font-size="39.2" fill="#262626">10<tspan font-size="31.4" dy="-19">-2</tspan></text>
<text x="129.8" y="771.07" text-anchor="end" font-size="39.2" fill="#262626">10<tspan font-size="31.4" dy="-19">-3</tspan></text>
<text x="129.8" y="907.9" text-anchor="end" font-size="39.2" fill="#262626">10<tspan font-size="31.4" dy="-19">-4</tspan></text>
<text x="998.6" y="87.6" text-anchor="end" font-size="39.2" fill="#262626">10<tspan font-size="31.4" dy="-19">2</tspan></text>
<text x="998.6" y="224.4" text-anchor="end" font-size="39.2" fill="#262626">10<tspan font-size="31.4" dy="-19">1</tspan></text>
<text x="998.6" y="361.2" text-anchor="end" font-size="39.2" fill="#262626">10<tspan font-size="31.4" dy="-19">0</tspan></text>
<text x="998.6" y="498" text-anchor="end" font-size="39.2" fill="#262626">10<tspan font-size="31.4" dy="-19">-1</tspan></text>
<text x="998.6" y="634.8" text-anchor="end" font-size="39.2" fill="#262626">10<tspan font-size="31.4" dy="-19">-2</tspan></text>
<text x="998.6" y="771.6" text-anchor="end" font-size="39.2" fill="#262626">10<tspan font-size="31.4" dy="-19">-3</tspan></text>
<text x="998.6" y="908.4" text-anchor="end" font-size="39.2" fill="#262626">10<tspan font-size="31.4" dy="-19">-4</tspan></text>
<text x="196.69" y="935.2" text-anchor="middle" font-size="39.2" fill="#262626">-0.5</text>
<text x="307.86" y="935.2" text-anchor="middle" font-size="39.2" fill="#262626">0</text>
<text x="419.03" y="935.2" text-anchor="middle" font-size="39.2" fill="#262626">0.5</text>
<text x="663.93" y="935.2" text-anchor="middle" font-size="39.2" fill="#262626">0</text>
<text x="792.57" y="935.2" text-anchor="middle" font-size="39.2" fill="#262626">0.5</text>
<text x="922.2" y="935.2" text-anchor="middle" font-size="39.2" fill="#262626">1</text>
<text x="274.5" y="983.2" font-size="42" fill="#262626">V<tspan font-size="33.6" dy="20">G</tspan><tspan dy="-20"> [V]</tspan></text>
<text x="667.4" y="983.2" font-size="42" fill="#262626">V<tspan font-size="33.6" dy="20">G</tspan><tspan dy="-20"> [V]</tspan></text>
<text transform="translate(32,551.5) rotate(-90)" font-size="42" fill="#262626">I<tspan font-size="33.6" dy="20">DS</tspan><tspan dx="11.5" dy="-20"> [nA]</tspan></text>
</svg></body></html>
